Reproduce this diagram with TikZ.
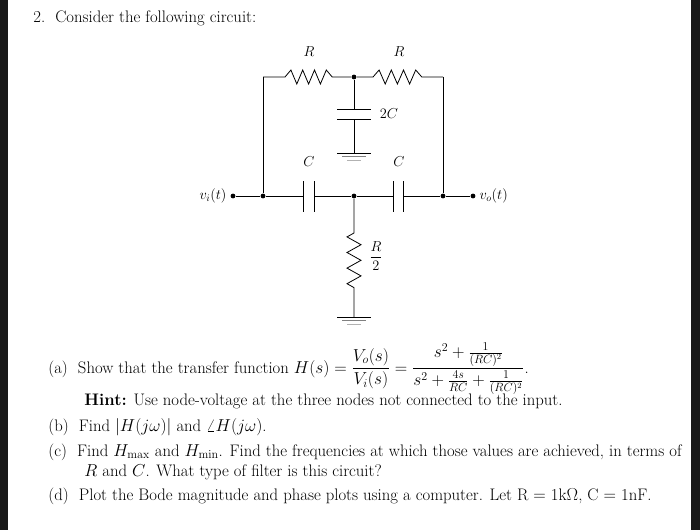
\documentclass[tikz,border=0pt]{standalone}
\usepackage{amsmath}
\begin{document}
\begin{tikzpicture}[x=1pt,y=-1pt,line width=0.8pt,
  dot/.style={circle,fill,inner sep=1.7pt},
  lbl/.style={font=\fontsize{14}{16}\selectfont},
  txt/.style={anchor=base west,inner sep=0pt,font=\fontsize{16.7}{19}\selectfont}]
\useasboundingbox (0,0) rectangle (700,530);
\fill[black!90] (0,0) rectangle (8,530);
\fill[black!90] (691,0) rectangle (700,530);
\coordinate (tl) at (263,77); \coordinate (tr) at (443,77);
\node[dot] (tm) at (354,77) {};
\node[dot] (vin) at (233,196) {};
\node[dot] (nl) at (263,196) {};
\node[dot] (nm) at (354,196) {};
\node[dot] (nr) at (443,196) {};
\node[dot] (vout) at (473,196) {};
% top resistors
\draw (tl) -- (285,77) -- ++(5.9,-7) \foreach \i in {1,...,3}{ -- ++(5.9,14) -- ++(5.9,-14)} -- ++(5.9,7) -- (tm);
\draw (tm) -- (373,77) -- ++(6.1,-7) \foreach \i in {1,...,3}{ -- ++(6.1,14) -- ++(6.1,-14)} -- ++(6.1,7) -- (tr);
\draw (tl) -- (nl); \draw (tr) -- (nr);
% 2C
\draw (tm) -- (354,109); \draw (337,109) -- (371,109); \draw (337,119) -- (371,119);
\draw (354,119) -- (354,153);
\foreach \w/\dy/\c in {17/0/black,12/3.5/gray,7/7/gray!60}{\draw[\c] (354-\w,153+\dy) -- (354+\w,153+\dy);}
% bottom line
\draw (vin) -- (nl) -- (303,196); \draw (303,181) -- (303,212); \draw (314,181) -- (314,212);
\draw (314,196) -- (nm) -- (393,196); \draw (393,181) -- (393,212); \draw (403,181) -- (403,212);
\draw (403,196) -- (nr) -- (vout);
% R/2
\draw (nm) -- (354,233) -- ++(-7,3.9) \foreach \i in {1,...,3}{ -- ++(14,7.8) -- ++(-14,7.8)} -- ++(7,3.9) -- (354,317);
\foreach \w/\dy/\c in {17/0/black,12/3.5/gray,7/7/gray!60}{\draw[\c] (354-\w,317+\dy) -- (354+\w,317+\dy);}
% labels
\node[lbl] at (309,52) {$R$}; \node[lbl] at (399,52) {$R$};
\node[lbl] at (389,114) {$2C$};
\node[lbl] at (309,162) {$C$}; \node[lbl] at (399,162) {$C$};
\node[lbl,anchor=east] at (vin.west) {$v_i(t)$};
\node[lbl,anchor=west] at (vout.east) {$v_o(t)$};
\node[lbl] at (376,256) {$\dfrac{R}{2}$};
% text
\node[txt] at (33,22) {2.\ \ Consider the following circuit:};
\node[txt] at (48,373) {(a)\ \ Show that the transfer function $H(s)=\dfrac{V_o(s)}{V_i(s)}=\dfrac{s^2+\frac{1}{(RC)^2}}{s^2+\frac{4s}{RC}+\frac{1}{(RC)^2}}$.};
\node[txt] at (84,405) {\textbf{Hint:} Use node-voltage at the three nodes not connected to the input.};
\node[txt] at (48,431) {(b)\ \ Find $|H(j\omega)|$ and $\angle H(j\omega)$.};
\node[txt] at (48,456) {(c)\ \ Find $H_{\max}$ and $H_{\min}$. Find the frequencies at which those values are achieved, in terms of};
\node[txt] at (84,476) {$R$ and $C$. What type of filter is this circuit?};
\node[txt] at (48,500) {(d)\ \ Plot the Bode magnitude and phase plots using a computer. Let R $=$ 1k$\Omega$, C $=$ 1nF.};
\end{tikzpicture}
\end{document}
